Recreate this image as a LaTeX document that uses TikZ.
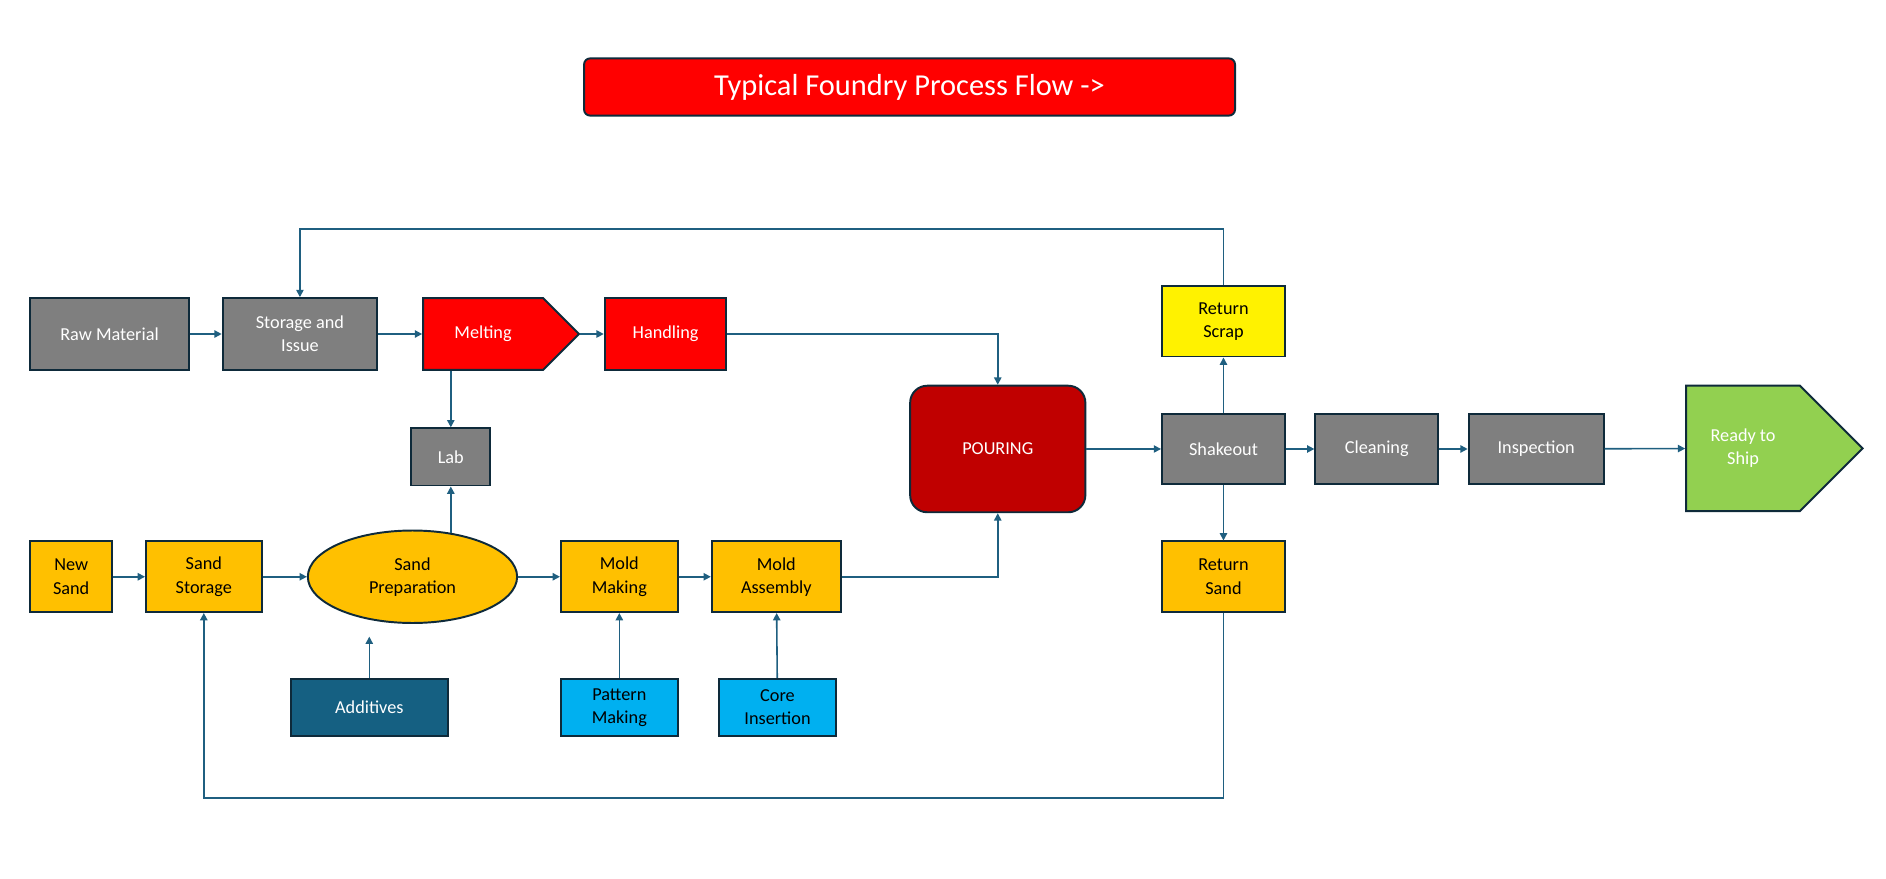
\documentclass[tikz,border=0pt]{standalone}
\usepackage{fontspec}
\setmainfont{Carlito}
\usetikzlibrary{shapes.geometric,shapes.symbols,arrows.meta}
\definecolor{flowline}{HTML}{1F5F80}
\definecolor{boxedge}{HTML}{0E2A3A}
\definecolor{greybox}{HTML}{7F7F7F}
\definecolor{orangebox}{HTML}{FFC000}
\definecolor{darkred}{HTML}{C00000}
\definecolor{teal}{HTML}{156082}
\definecolor{cyanbox}{HTML}{00B0F0}
\definecolor{greenbox}{HTML}{92D050}
\tikzset{
  stage/.style={draw=boxedge,line width=1.6pt,align=center,inner sep=2pt,
    font=\fontsize{15}{19}\selectfont},
  grey/.style={stage,fill=greybox,text=white},
  sand/.style={stage,fill=orangebox,text=black},
  link/.style={draw=flowline,line width=1.3pt,-{Triangle[length=6pt,width=6pt]}}
}
\begin{document}
\begin{tikzpicture}[x=1pt,y=-1pt]
\useasboundingbox (0,0) rectangle (1550,722);
% title
\node[stage,fill=red,text=white,rounded corners=5pt,minimum width=535,minimum height=47,
  font=\fontsize{25}{30}\selectfont] (title) at (747.5,71.5) {Typical Foundry Process Flow ->};
% metal line
\node[grey,minimum width=130,minimum height=59] (raw) at (90,274.5) {Raw Material};
\node[grey,minimum width=127,minimum height=59] (store) at (246.5,274.5) {Storage and\\Issue};
\node[stage,fill=red,text=white,shape=signal,signal to=east,signal pointer angle=90,
  minimum width=128,minimum height=59] (melt) at (397,274.5) {Melting};
\node[stage,fill=red,text=white,minimum width=100,minimum height=59] (handle) at (547,274.5) {Handling};
\node[grey,minimum width=65,minimum height=47] (lab) at (370.5,375.5) {Lab};
\node[stage,fill=darkred,text=white,rounded corners=14pt,minimum width=144,minimum height=104] (pour) at (820,369) {POURING};
% finishing line
\node[stage,fill=yellow,text=black,minimum width=101,minimum height=58] (scrap) at (1005.5,264) {Return\\Scrap};
\node[grey,minimum width=101,minimum height=58] (shake) at (1005.5,369) {Shakeout};
\node[grey,minimum width=101,minimum height=58] (clean) at (1131.5,369) {Cleaning};
\node[grey,minimum width=111,minimum height=58] (inspect) at (1262.5,369) {Inspection};
\node[stage,fill=greenbox,text=white,shape=signal,signal to=east,signal pointer angle=90,
  minimum width=145,minimum height=103] (ship) at (1432.5,368.5) {Ready to\\Ship};
\node[sand,minimum width=101,minimum height=58] (rsand) at (1005.5,474) {Return\\Sand};
% sand line
\node[sand,minimum width=67,minimum height=58] (new) at (58.5,474) {New\\Sand};
\node[sand,minimum width=95,minimum height=58] (sstore) at (167.5,474) {Sand\\Storage};
\node[sand,shape=ellipse,minimum width=172,minimum height=76] (prep) at (339,474) {Sand\\Preparation};
\node[sand,minimum width=96,minimum height=58] (mmake) at (509,474) {Mold\\Making};
\node[sand,minimum width=106,minimum height=58] (massy) at (638,474) {Mold\\Assembly};
\node[stage,fill=teal,text=white,minimum width=129,minimum height=47] (add) at (303.5,581.5) {Additives};
\node[stage,fill=cyanbox,text=black,minimum width=96,minimum height=47] (pattern) at (509,581.5) {Pattern\\Making};
\node[stage,fill=cyanbox,text=black,minimum width=96,minimum height=47] (core) at (639,581.5) {Core\\Insertion};
% connectors
\draw[link] (raw) -- (store);
\draw[link] (store) -- (melt);
\draw[link] (melt.east) -- (handle);
\draw[link] (handle.east) -| (pour.north);
\draw[link] (melt.south -| lab.north) -- (lab);
\draw[link] (prep.north -| lab.south) ++(0,3) -- (lab);
\draw[link] (new) -- (sstore);
\draw[link] (sstore) -- (prep);
\draw[link] (prep) -- (mmake);
\draw[link] (mmake) -- (massy);
\draw[link] (massy.east) -| (pour.south);
\draw[link] (add.north) -- ++(0,-34);
\draw[link] (pattern) -- (mmake);
\draw[link] (core) -- (massy);
\draw[link] (pour.east |- shake) -- (shake);
\draw[link] (shake) -- (clean);
\draw[link] (clean) -- (inspect);
\draw[link] (inspect) -- (ship);
\draw[link] (shake) -- (scrap);
\draw[link] (shake) -- (rsand);
\draw[link] (scrap.north) -- ++(0,-46) -| (store.north);
\draw[link] (rsand.south) -- ++(0,152) -| (sstore.south);
\end{tikzpicture}
\end{document}
